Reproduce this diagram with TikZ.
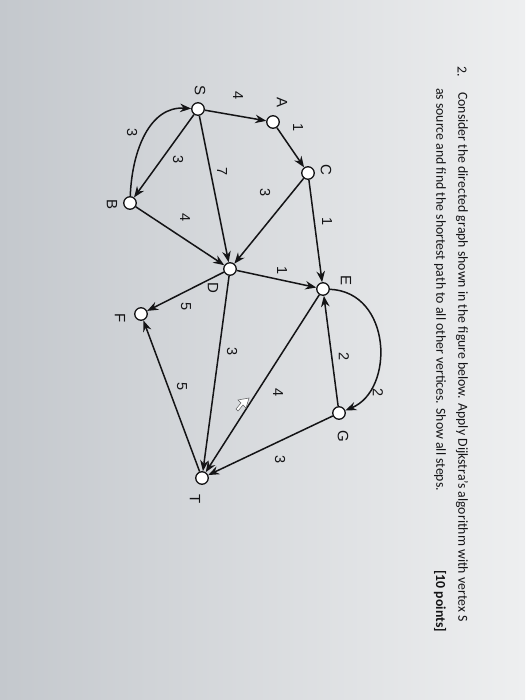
\documentclass[tikz,border=0pt]{standalone}
\usepackage{fontspec}
\setmainfont{Carlito}
\newfontfamily\labfont{Liberation Sans}
\usetikzlibrary{arrows.meta}
\definecolor{bgdark}{RGB}{196,200,205}
\definecolor{bglight}{RGB}{238,239,240}
\definecolor{ink}{RGB}{20,20,22}
\begin{document}
\begin{tikzpicture}[x=1pt,y=-1pt,
  vtx/.style={circle,draw=ink,line width=1.3pt,fill=white,minimum size=12.5pt,inner sep=0pt},
  edge/.style={draw=ink,line width=1.5pt,-{Stealth[length=11pt,width=8.5pt]}},
  vlab/.style={rotate=-90,text=ink,font=\labfont\fontsize{15}{17}\selectfont},
  wlab/.style={rotate=-90,text=ink,font=\labfont\fontsize{14.5}{16}\selectfont},
  txt/.style={rotate=-90,anchor=west,text=ink,inner sep=0pt,font=\fontsize{13.8}{16}\selectfont}]
\useasboundingbox (0,0) rectangle (525,700);
\shade[left color=bgdark,right color=bglight] (0,0) rectangle (525,700);

% question text
\node[txt] (q0) at (462,66) {2.};
\node[txt] (q1) at (462,92) {Consider the directed graph shown in the figure below. Apply Dijkstra's algorithm with vertex S};
\node[txt] (q2) at (440,88) {as source and find the shortest path to all other vertices. Show all steps.};
\node[txt] (q3) at (440,570) {\bfseries [10 points]};

% vertices
\node[vtx] (S) at (198,109) {};
\node[vtx] (A) at (273,122) {};
\node[vtx] (C) at (308,173) {};
\node[vtx] (B) at (130,203) {};
\node[vtx] (D) at (230,269) {};
\node[vtx] (E) at (323,289) {};
\node[vtx] (F) at (141,314) {};
\node[vtx] (G) at (339,413) {};
\node[vtx] (T) at (202,478) {};

% vertex labels
\node[vlab] (lS) at (200,91) {S};
\node[vlab] (lA) at (282,103) {A};
\node[vlab] (lC) at (326,170) {C};
\node[vlab] (lB) at (112,205) {B};
\node[vlab] (lD) at (213,288) {D};
\node[vlab] (lE) at (346,281) {E};
\node[vlab] (lF) at (120,318) {F};
\node[vlab] (lG) at (343,436) {G};
\node[vlab] (lT) at (195,499) {T};

% edges
\draw[edge] (S) -- (A);
\draw[edge] (A) -- (C);
\draw[edge] (S) -- (B);
\draw[edge] (B) .. controls (132,150) and (150,106) .. (S);
\draw[edge] (S) -- (D);
\draw[edge] (C) -- (D);
\draw[edge] (B) -- (D);
\draw[edge] (C) -- (E);
\draw[edge] (D) -- (E);
\draw[edge] (D) -- (F);
\draw[edge] (T) -- (F);
\draw[edge] (D) -- (T);
\draw[edge] (E) -- (T);
\draw[edge] (G) -- (E);
\draw[edge] (E) .. controls (392,292) and (395,390) .. (G);
\draw[edge] (G) -- (T);

% weights
\node[wlab] (w1) at (238,96) {4};
\node[wlab] (w2) at (298,128) {1};
\node[wlab] (w3) at (132,133) {3};
\node[wlab] (w4) at (178,160) {3};
\node[wlab] (w5) at (222,172) {7};
\node[wlab] (w6) at (265,193) {3};
\node[wlab] (w7) at (327,222) {1};
\node[wlab] (w8) at (185,218) {4};
\node[wlab] (w9) at (282,271) {1};
\node[wlab] (w10) at (186,307) {5};
\node[wlab] (w11) at (182,387) {5};
\node[wlab] (w12) at (232,352) {3};
\node[wlab] (w13) at (278,393) {4};
\node[wlab] (w14) at (344,357) {2};
\node[wlab] (w15) at (378,393) {2};
\node[wlab] (w16) at (280,460) {3};

% mouse pointer
\draw[draw=ink!70,fill=white,line width=0.5pt] (249,398) -- (238,400) -- (241,403) -- (236,409) -- (238,411) -- (243,405) -- (246,408) -- cycle;
\end{tikzpicture}
\end{document}
